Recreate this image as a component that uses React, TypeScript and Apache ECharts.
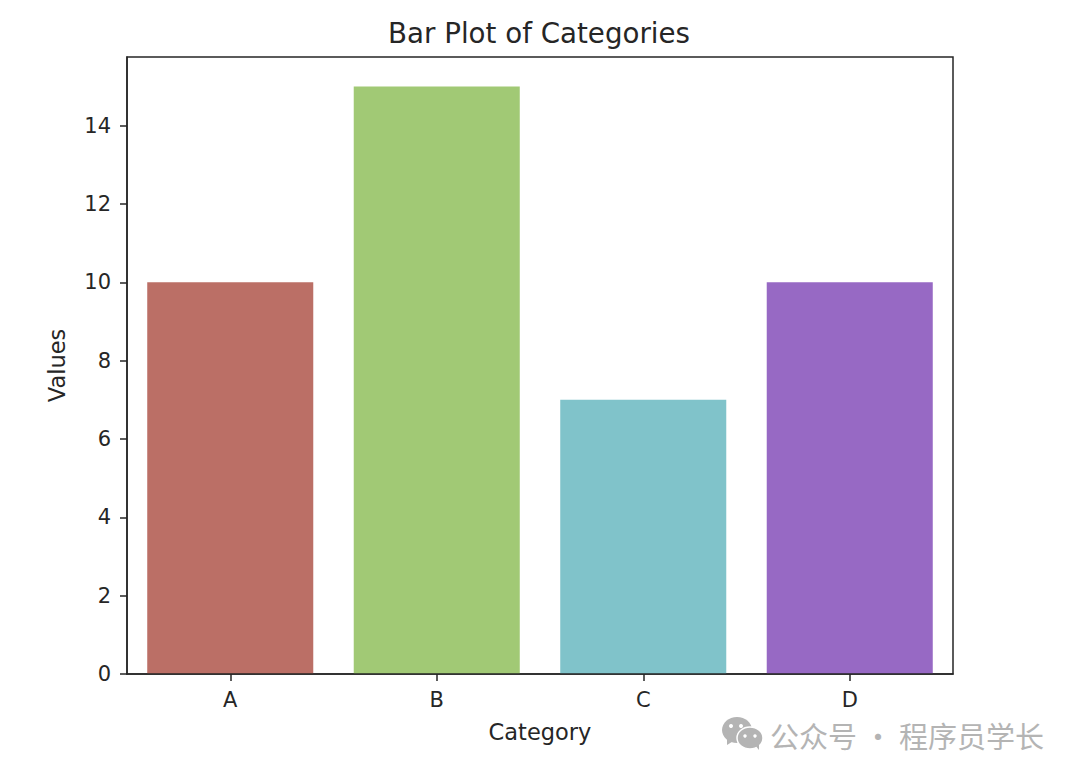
import React, { useEffect, useRef } from "react";
import * as echarts from "echarts";

const categories = ["A", "B", "C", "D"];
const values = [10, 15, 7, 10];
const barColors = ["#bb6f66", "#a1c975", "#80c3ca", "#9769c4"];
const yTicks = [0, 2, 4, 6, 8, 10, 12, 14];
const titleText = "Bar Plot of Categories";
const xName = "Category";
const yName = "Values";
const watermark = "公众号 · 程序员学长";

const FONT = "'DejaVu Sans', sans-serif";
const INK = "#262626";
const GREY = "#b4b4b4";

export default function App() {
  const ref = useRef<HTMLDivElement>(null);
  useEffect(() => {
    const chart = echarts.init(ref.current!, undefined, { renderer: "svg" });
    chart.setOption({
      animation: false,
      backgroundColor: "#ffffff",
      title: {
        text: titleText,
        left: 534,
        top: 14,
        textAlign: "center",
        textStyle: { fontFamily: FONT, fontSize: 27.7, fontWeight: "normal", color: INK },
      },
      grid: {
        left: 127,
        right: 127,
        top: 57,
        bottom: 103,
        show: true,
        borderColor: INK,
        borderWidth: 1.5,
        backgroundColor: "transparent",
      },
      xAxis: {
        type: "category",
        data: categories,
        z: 3,
        name: xName,
        nameLocation: "middle",
        nameGap: 46,
        nameTextStyle: { fontFamily: FONT, fontSize: 22.5, color: INK },
        axisLine: { show: true, lineStyle: { color: INK, width: 1.5 } },
        axisTick: { show: true, alignWithLabel: true, length: 7, lineStyle: { color: INK, width: 1.5 } },
        axisLabel: { fontFamily: FONT, fontSize: 21, color: INK, margin: 15 },
      },
      yAxis: {
        type: "value",
        min: 0,
        max: 15.75,
        z: 3,
        name: yName,
        nameLocation: "middle",
        nameGap: 59,
        nameTextStyle: { fontFamily: FONT, fontSize: 22.5, color: INK },
        splitLine: { show: false },
        axisLine: { show: true, lineStyle: { color: INK, width: 1.5 } },
        axisTick: { show: true, length: 7, customValues: yTicks, lineStyle: { color: INK, width: 1.5 } },
        axisLabel: { fontFamily: FONT, fontSize: 21, color: INK, margin: 16, customValues: yTicks },
      },
      series: [
        {
          type: "bar",
          barWidth: "80.4%",
          data: values.map((v, i) => ({ value: v, itemStyle: { color: barColors[i] } })),
        },
      ],
      graphic: [
        { type: "ellipse", shape: { cx: 737, cy: 730, rx: 15, ry: 13 }, style: { fill: GREY } },
        { type: "polygon", shape: { points: [[727, 736], [727, 745], [735, 740]] }, style: { fill: GREY } },
        { type: "ellipse", shape: { cx: 750, cy: 738, rx: 13, ry: 11 }, style: { fill: GREY, stroke: "#fff", lineWidth: 1.5 } },
        { type: "polygon", shape: { points: [[755, 745], [759, 750], [759, 741]] }, style: { fill: GREY } },
        { type: "circle", shape: { cx: 731, cy: 726, r: 2 }, style: { fill: "#fff" } },
        { type: "circle", shape: { cx: 741, cy: 726, r: 2 }, style: { fill: "#fff" } },
        { type: "circle", shape: { cx: 745, cy: 736, r: 1.7 }, style: { fill: "#fff" } },
        { type: "circle", shape: { cx: 755, cy: 736, r: 1.7 }, style: { fill: "#fff" } },
        {
          type: "text",
          x: 770,
          y: 735,
          style: {
            text: watermark,
            fontFamily: "'Noto Sans CJK SC', sans-serif",
            fontSize: 29,
            fill: GREY,
            textVerticalAlign: "middle",
          },
        },
      ],
    });
    return () => chart.dispose();
  }, []);
  return <div ref={ref} style={{ position: "absolute", left: 0, top: 0, width: 1080, height: 777 }} />;
}
